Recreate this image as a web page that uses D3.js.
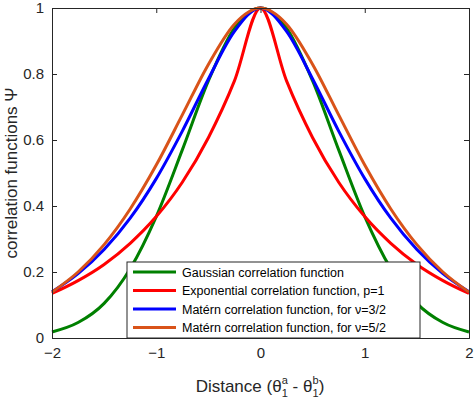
<!DOCTYPE html><html><head><meta charset="utf-8"><script src="https://cdn.jsdelivr.net/npm/d3@7"></script>
<style>body{margin:0;background:#fff}text{font-family:Arial,"Liberation Sans",sans-serif}</style></head><body><svg id="c" width="474" height="400"></svg><script>
const xs=[-2,-1.75,-1.5,-1.25,-1,-0.75,-0.5,-0.25,0,0.25,0.5,0.75,1,1.25,1.5,1.75,2];
const half=a=>a.slice().reverse().concat(a.slice(1));
const gauss=half([1,.939,.779,.570,.368,.210,.105,.0468,.0183]);
const expo=half([1,.779,.607,.472,.368,.287,.223,.174,.135]);
const mat32=half([1,.929,.785,.627,.483,.363,.268,.195,.140]);
const mat52=half([1,.951,.829,.676,.524,.391,.283,.200,.139]);
const names=["Gaussian correlation function","Exponential correlation function, p=1","Matérn correlation function, for ν=3/2","Matérn correlation function, for ν=5/2"];
const colors=["#008000","#ff0000","#0000ff","#d95319"];
const xTicks=[-2,-1,0,1,2],yTicks=[0,0.2,0.4,0.6,0.8,1];
const svg=d3.select("#c"),L=52,R=469,T=8,B=338;
const x=d3.scaleLinear([-2,2],[L,R]),y=d3.scaleLinear([0,1],[B,T]);
svg.append("rect").attr("x",L).attr("y",T).attr("width",R-L).attr("height",B-T).attr("fill","#fff");
const series=[gauss,expo,mat32,mat52];
const line=d3.line().x((d,i)=>x(xs[i])).y(d=>y(d)).curve(d3.curveMonotoneX);
series.forEach((s,k)=>svg.append("path").attr("d",line(s)).attr("fill","none").attr("stroke",colors[k]).attr("stroke-width",3));
const ax=svg.append("g").attr("transform",`translate(0,${B})`).call(d3.axisBottom(x).tickValues(xTicks).tickSize(-5).tickPadding(9).tickFormat(d3.format("d")));
const ay=svg.append("g").attr("transform",`translate(${L},0)`).call(d3.axisLeft(y).tickValues(yTicks).tickSize(-5).tickPadding(8).tickFormat(d=>d));
svg.append("g").attr("transform",`translate(0,${T})`).call(d3.axisTop(x).tickValues(xTicks).tickSize(-5).tickFormat(""));
svg.append("g").attr("transform",`translate(${R},0)`).call(d3.axisRight(y).tickValues(yTicks).tickSize(-5).tickFormat(""));
svg.selectAll(".domain,.tick line").attr("stroke","#262626");
svg.selectAll(".tick text").attr("font-size",15).attr("fill","#262626").style("font-family","Arial,Liberation Sans");
svg.append("text").attr("transform","translate(17,173) rotate(-90)").attr("text-anchor","middle").attr("font-size",17).attr("fill","#262626").text("correlation functions Ψ");
const xl=svg.append("text").attr("x",260).attr("y",392).attr("text-anchor","middle").attr("font-size",17).attr("fill","#262626");
xl.append("tspan").text("Distance (θ");xl.append("tspan").attr("font-size",11).attr("dy",5).text("1");xl.append("tspan").attr("font-size",11).attr("dy",-13).attr("dx",-6).text("a");
xl.append("tspan").attr("dy",8).text(" - θ");xl.append("tspan").attr("font-size",11).attr("dy",5).text("1");xl.append("tspan").attr("font-size",11).attr("dy",-13).attr("dx",-6).text("b");xl.append("tspan").attr("dy",8).text(")");
const lg=svg.append("g");
lg.append("rect").attr("x",127).attr("y",262).attr("width",293).attr("height",76).attr("fill","#fff").attr("stroke","#262626");
names.forEach((n,k)=>{const yy=272+k*18.5;
lg.append("line").attr("x1",133).attr("x2",176).attr("y1",yy).attr("y2",yy).attr("stroke",colors[k]).attr("stroke-width",3);
lg.append("text").attr("x",182).attr("y",yy+4.5).attr("font-size",12.5).attr("fill","#000").text(n);});
</script></body></html>
